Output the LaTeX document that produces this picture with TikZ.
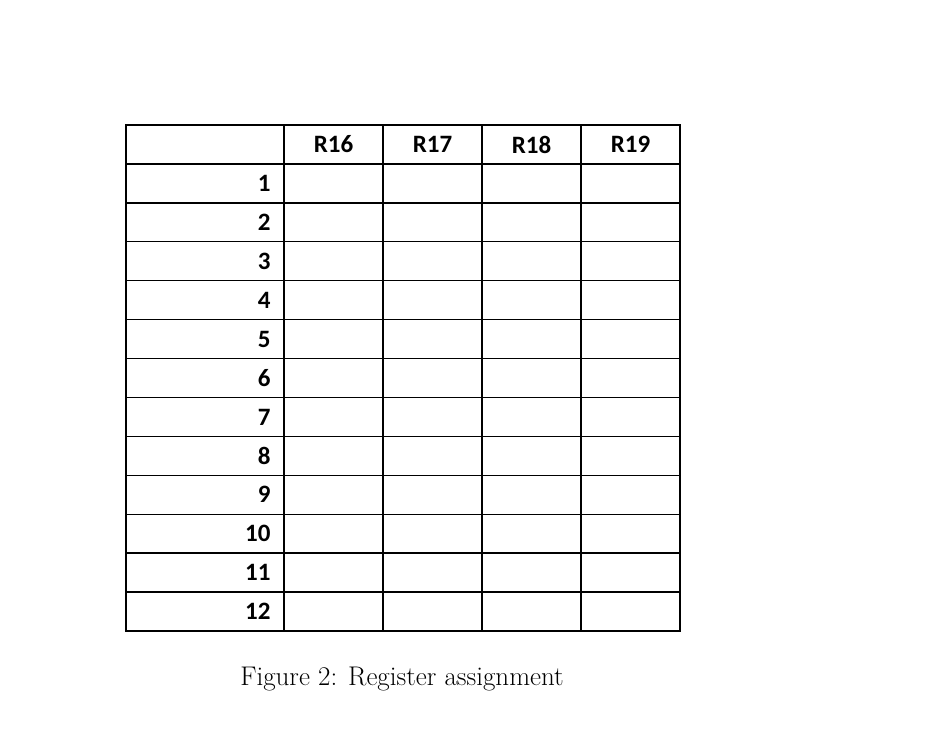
\documentclass[tikz,border=0pt]{standalone}
\usepackage{fontspec}
\newfontfamily\calfont{Carlito}
\begin{document}
\begin{tikzpicture}[x=1pt,y=-1pt,
  hd/.style={font=\calfont\bfseries\fontsize{25}{28}\selectfont},
  rn/.style={font=\calfont\bfseries\fontsize{25}{28}\selectfont,anchor=east},
  captext/.style={font=\fontsize{27}{30}\selectfont}]
\useasboundingbox (0,0) rectangle (932,744);
\draw[line width=1.6] (126,125) rectangle (680,631);
\foreach \x in {284,383,482,581} \draw[line width=1.4] (\x,125) -- (\x,631);
\foreach \i in {1,...,12} \draw[line width=1.4] (126,{125+\i*38.92}) -- (680,{125+\i*38.92});
\foreach \t [count=\k] in {R16,R17,R18,R19}
  \node[hd] (h\k) at ({284+(\k-0.5)*99},{125+0.5*38.92}) {\t};
\foreach \i in {1,...,12}
  \node[rn] (r\i) at (274,{125+(\i+0.5)*38.92}) {\i};
\node[captext] (c) at (402,679) {Figure 2: Register assignment};
\end{tikzpicture}
\end{document}
